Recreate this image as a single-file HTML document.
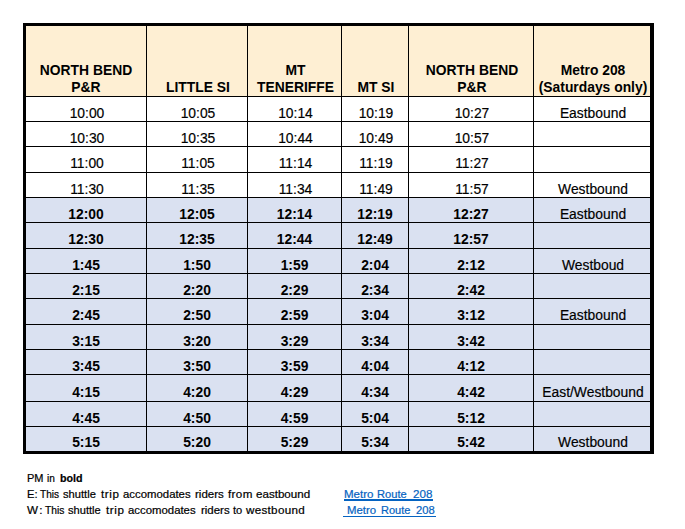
<!DOCTYPE html>
<html><head><meta charset="utf-8"><title>Shuttle schedule</title>
<style>
html,body{margin:0;padding:0;background:#fff;}
body{width:685px;height:529px;position:relative;overflow:hidden;font-family:"Liberation Sans",sans-serif;color:#000;}
.a{position:absolute;}
.t{position:absolute;-webkit-text-stroke:0.18px #000;text-align:center;white-space:nowrap;font-size:14.67px;line-height:17px;height:17px;transform:scaleX(0.945);transform-origin:50% 50%;}
.b{font-weight:bold;-webkit-text-stroke:0;}
.hl{position:absolute;left:26px;width:624px;height:1px;background:#000;}
.vl{position:absolute;top:26px;height:425px;width:1px;background:#000;}
.f{position:absolute;white-space:nowrap;-webkit-text-stroke:0.2px currentColor;font-size:10.4px;line-height:14px;height:14px;transform-origin:0 0;}
.lk{color:#0563c1;}
</style></head><body>

<div class="a" style="left:26px;top:26px;width:624px;height:70px;background:#feefd3;"></div>
<div class="a" style="left:26px;top:198px;width:624px;height:253px;background:#dae1f1;"></div>
<div class="a" style="left:23px;top:23px;width:624px;height:425px;border:3px solid #000;border-right-width:4px;"></div>
<div class="hl" style="top:96px;"></div>
<div class="hl" style="top:121px;"></div>
<div class="hl" style="top:146px;"></div>
<div class="hl" style="top:172px;"></div>
<div class="hl" style="top:197px;"></div>
<div class="hl" style="top:222px;"></div>
<div class="hl" style="top:248px;"></div>
<div class="hl" style="top:273px;"></div>
<div class="hl" style="top:298px;"></div>
<div class="hl" style="top:324px;"></div>
<div class="hl" style="top:349px;"></div>
<div class="hl" style="top:374px;"></div>
<div class="hl" style="top:401px;"></div>
<div class="hl" style="top:426px;"></div>
<div class="vl" style="left:146px;"></div>
<div class="vl" style="left:247px;"></div>
<div class="vl" style="left:341px;"></div>
<div class="vl" style="left:408px;"></div>
<div class="vl" style="left:533px;"></div>
<div class="t b" style="left:26px;width:120px;top:62px;">NORTH BEND</div>
<div class="t b" style="left:26px;width:120px;top:79px;">P&amp;R</div>
<div class="t b" style="left:147.8px;width:100px;top:79px;">LITTLE SI</div>
<div class="t b" style="left:248.5px;width:93px;top:62px;">MT</div>
<div class="t b" style="left:248.5px;width:93px;top:79px;">TENERIFFE</div>
<div class="t b" style="left:343.0px;width:66px;top:79px;">MT SI</div>
<div class="t b" style="left:409.9px;width:124px;top:62px;">NORTH BEND</div>
<div class="t b" style="left:409.9px;width:124px;top:79px;">P&amp;R</div>
<div class="t b" style="left:534.7px;width:116px;top:62px;">Metro 208</div>
<div class="t b" style="left:534.7px;width:116px;top:79px;">(Saturdays only)</div>
<div class="t" style="left:26.5px;width:120px;top:105px;">10:00</div>
<div class="t" style="left:147.7px;width:100px;top:105px;">10:05</div>
<div class="t" style="left:248.7px;width:93px;top:105px;">10:14</div>
<div class="t" style="left:343.2px;width:66px;top:105px;">10:19</div>
<div class="t" style="left:409.6px;width:124px;top:105px;">10:27</div>
<div class="t" style="left:535.2px;width:116px;top:105px;">Eastbound</div>
<div class="t" style="left:26.5px;width:120px;top:130px;">10:30</div>
<div class="t" style="left:147.7px;width:100px;top:130px;">10:35</div>
<div class="t" style="left:248.7px;width:93px;top:130px;">10:44</div>
<div class="t" style="left:343.2px;width:66px;top:130px;">10:49</div>
<div class="t" style="left:409.6px;width:124px;top:130px;">10:57</div>
<div class="t" style="left:26.5px;width:120px;top:155px;">11:00</div>
<div class="t" style="left:147.7px;width:100px;top:155px;">11:05</div>
<div class="t" style="left:248.7px;width:93px;top:155px;">11:14</div>
<div class="t" style="left:343.2px;width:66px;top:155px;">11:19</div>
<div class="t" style="left:409.6px;width:124px;top:155px;">11:27</div>
<div class="t" style="left:26.5px;width:120px;top:181px;">11:30</div>
<div class="t" style="left:147.7px;width:100px;top:181px;">11:35</div>
<div class="t" style="left:248.7px;width:93px;top:181px;">11:34</div>
<div class="t" style="left:343.2px;width:66px;top:181px;">11:49</div>
<div class="t" style="left:409.6px;width:124px;top:181px;">11:57</div>
<div class="t" style="left:535.2px;width:116px;top:181px;">Westbound</div>
<div class="t b" style="left:26.1px;width:120px;top:206px;">12:00</div>
<div class="t b" style="left:147.3px;width:100px;top:206px;">12:05</div>
<div class="t b" style="left:248.3px;width:93px;top:206px;">12:14</div>
<div class="t b" style="left:342.3px;width:66px;top:206px;">12:19</div>
<div class="t b" style="left:409.2px;width:124px;top:206px;">12:27</div>
<div class="t" style="left:535.2px;width:116px;top:206px;">Eastbound</div>
<div class="t b" style="left:26.1px;width:120px;top:231px;">12:30</div>
<div class="t b" style="left:147.3px;width:100px;top:231px;">12:35</div>
<div class="t b" style="left:248.3px;width:93px;top:231px;">12:44</div>
<div class="t b" style="left:342.3px;width:66px;top:231px;">12:49</div>
<div class="t b" style="left:409.2px;width:124px;top:231px;">12:57</div>
<div class="t b" style="left:26.1px;width:120px;top:257px;">1:45</div>
<div class="t b" style="left:147.3px;width:100px;top:257px;">1:50</div>
<div class="t b" style="left:248.3px;width:93px;top:257px;">1:59</div>
<div class="t b" style="left:342.3px;width:66px;top:257px;">2:04</div>
<div class="t b" style="left:409.2px;width:124px;top:257px;">2:12</div>
<div class="t" style="left:535.2px;width:116px;top:257px;">Westboud</div>
<div class="t b" style="left:26.1px;width:120px;top:282px;">2:15</div>
<div class="t b" style="left:147.3px;width:100px;top:282px;">2:20</div>
<div class="t b" style="left:248.3px;width:93px;top:282px;">2:29</div>
<div class="t b" style="left:342.3px;width:66px;top:282px;">2:34</div>
<div class="t b" style="left:409.2px;width:124px;top:282px;">2:42</div>
<div class="t b" style="left:26.1px;width:120px;top:307px;">2:45</div>
<div class="t b" style="left:147.3px;width:100px;top:307px;">2:50</div>
<div class="t b" style="left:248.3px;width:93px;top:307px;">2:59</div>
<div class="t b" style="left:342.3px;width:66px;top:307px;">3:04</div>
<div class="t b" style="left:409.2px;width:124px;top:307px;">3:12</div>
<div class="t" style="left:535.2px;width:116px;top:307px;">Eastbound</div>
<div class="t b" style="left:26.1px;width:120px;top:333px;">3:15</div>
<div class="t b" style="left:147.3px;width:100px;top:333px;">3:20</div>
<div class="t b" style="left:248.3px;width:93px;top:333px;">3:29</div>
<div class="t b" style="left:342.3px;width:66px;top:333px;">3:34</div>
<div class="t b" style="left:409.2px;width:124px;top:333px;">3:42</div>
<div class="t b" style="left:26.1px;width:120px;top:358px;">3:45</div>
<div class="t b" style="left:147.3px;width:100px;top:358px;">3:50</div>
<div class="t b" style="left:248.3px;width:93px;top:358px;">3:59</div>
<div class="t b" style="left:342.3px;width:66px;top:358px;">4:04</div>
<div class="t b" style="left:409.2px;width:124px;top:358px;">4:12</div>
<div class="t b" style="left:26.1px;width:120px;top:384px;">4:15</div>
<div class="t b" style="left:147.3px;width:100px;top:384px;">4:20</div>
<div class="t b" style="left:248.3px;width:93px;top:384px;">4:29</div>
<div class="t b" style="left:342.3px;width:66px;top:384px;">4:34</div>
<div class="t b" style="left:409.2px;width:124px;top:384px;">4:42</div>
<div class="t" style="left:535.2px;width:116px;top:384px;">East/Westbound</div>
<div class="t b" style="left:26.1px;width:120px;top:410px;">4:45</div>
<div class="t b" style="left:147.3px;width:100px;top:410px;">4:50</div>
<div class="t b" style="left:248.3px;width:93px;top:410px;">4:59</div>
<div class="t b" style="left:342.3px;width:66px;top:410px;">5:04</div>
<div class="t b" style="left:409.2px;width:124px;top:410px;">5:12</div>
<div class="t b" style="left:26.1px;width:120px;top:434px;">5:15</div>
<div class="t b" style="left:147.3px;width:100px;top:434px;">5:20</div>
<div class="t b" style="left:248.3px;width:93px;top:434px;">5:29</div>
<div class="t b" style="left:342.3px;width:66px;top:434px;">5:34</div>
<div class="t b" style="left:409.2px;width:124px;top:434px;">5:42</div>
<div class="t" style="left:535.2px;width:116px;top:434px;">Westbound</div>
<div class="f" style="left:26.90px;top:472px;letter-spacing:-0.000px;transform:scaleX(1.0582);">PM</div>
<div class="f" style="left:47.10px;top:472px;letter-spacing:0.000px;transform:scaleX(0.9749);">in</div>
<div class="f" style="left:59.60px;top:472px;letter-spacing:0.000px;transform:scaleX(1.0287);"><b>bold</b></div>
<div class="f" style="left:27.10px;top:488px;letter-spacing:0.000px;transform:scaleX(1.0750);">E:</div>
<div class="f" style="left:40.00px;top:488px;letter-spacing:-0.018px;transform:scaleX(0.9700);">This</div>
<div class="f" style="left:63.00px;top:488px;letter-spacing:0.000px;transform:scaleX(1.0735);">shuttle</div>
<div class="f" style="left:101.30px;top:488px;letter-spacing:0.502px;transform:scaleX(1.1200);">trip</div>
<div class="f" style="left:123.20px;top:488px;letter-spacing:0.000px;transform:scaleX(1.0941);">accomodates</div>
<div class="f" style="left:195.30px;top:488px;letter-spacing:0.000px;transform:scaleX(1.1091);">riders</div>
<div class="f" style="left:227.70px;top:488px;letter-spacing:0.315px;transform:scaleX(1.1200);">from</div>
<div class="f" style="left:255.50px;top:488px;letter-spacing:0.000px;transform:scaleX(1.1158);">eastbound</div>
<div class="f" style="left:26.70px;top:504px;letter-spacing:1.327px;transform:scaleX(1.1200);">W:</div>
<div class="f" style="left:44.70px;top:504px;letter-spacing:0.000px;transform:scaleX(0.9879);">This</div>
<div class="f" style="left:68.00px;top:504px;letter-spacing:0.000px;transform:scaleX(1.0670);">shuttle</div>
<div class="f" style="left:106.10px;top:504px;letter-spacing:0.502px;transform:scaleX(1.1200);">trip</div>
<div class="f" style="left:128.20px;top:504px;letter-spacing:0.000px;transform:scaleX(1.0941);">accomodates</div>
<div class="f" style="left:200.60px;top:504px;letter-spacing:0.000px;transform:scaleX(1.1014);">riders</div>
<div class="f" style="left:232.70px;top:504px;letter-spacing:0.000px;transform:scaleX(1.0690);">to</div>
<div class="f" style="left:245.80px;top:504px;letter-spacing:0.266px;transform:scaleX(1.1200);">westbound</div>
<div class="f lk" style="left:343.80px;top:488px;letter-spacing:-0.000px;transform:scaleX(1.1090);">Metro</div>
<div class="f lk" style="left:377.30px;top:488px;letter-spacing:0.000px;transform:scaleX(1.0698);">Route</div>
<div class="f lk" style="left:412.50px;top:488px;letter-spacing:0.061px;transform:scaleX(1.1200);">208</div>
<div class="f lk" style="left:347.30px;top:504px;letter-spacing:0.000px;transform:scaleX(1.0940);">Metro</div>
<div class="f lk" style="left:380.70px;top:504px;letter-spacing:0.000px;transform:scaleX(1.0591);">Route</div>
<div class="f lk" style="left:415.60px;top:504px;letter-spacing:0.000px;transform:scaleX(1.0822);">208</div>
<div class="a" style="left:344px;top:499px;width:89px;height:2px;background:#0563c1;"></div>
<div class="a" style="left:343px;top:516px;width:93px;height:1px;background:#0563c1;"></div>
</body></html>
